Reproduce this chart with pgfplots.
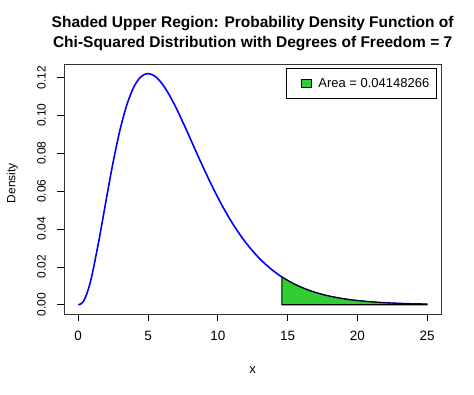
\documentclass[border=0pt]{standalone}
\usepackage{pgfplots}
\pgfplotsset{compat=1.18}
\usepackage{fontspec}
\setmainfont{Liberation Sans}
\definecolor{shade}{RGB}{50,205,50}
\begin{document}
\begin{tikzpicture}[x=1pt,y=1pt]
\path[use as bounding box] (-64.3,-81) rectangle (409.7,314);
\begin{axis}[
  at={(0,0)}, anchor=south west,
  scale only axis, width=376.7pt, height=249.7pt,
  xmin=-1, xmax=26, ymin=-0.00488, ymax=0.12692,
  xtick={0,5,10,15,20,25},
  ytick={0,0.02,0.04,0.06,0.08,0.10,0.12},
  xtick pos=bottom, ytick pos=left,
  tick align=outside, major tick length=7pt,
  tick style={black, line width=0.6pt},
  axis line style={line width=0.6pt, black!80},
  /pgf/number format/assume math mode=true,
  yticklabel={\pgfmathprintnumber[fixed,fixed zerofill,precision=2]{\tick}},
  scaled y ticks=false,
  yticklabel shift=8pt,
  yticklabel style={rotate=90, anchor=south, font=\fontsize{12}{14}\selectfont},
  xticklabel shift=7pt,
  xticklabel style={font=\fontsize{13.5}{15}\selectfont},
  legend style={at={(0.9886,0.9864)}, anchor=north east, draw=black, line width=0.8pt,
    font=\fontsize{13}{15}\selectfont, inner xsep=5pt, inner ysep=8pt,
    cells={anchor=west}},
  legend image code/.code={\draw[fill=shade, draw=black, line width=0.6pt] (10pt,-4pt) rectangle (20pt,4pt); \path[draw=none,fill=none] (0pt,0pt) -- (25pt,0pt);},
  clip=false,
]
\addplot[blue, line width=1.6pt, smooth, forget plot] coordinates {
(0,0) (0.25,0.000733) (0.5,0.003662) (0.75,0.008905) (1,0.016131) (1.5,0.034621) (2,0.055348)
(2.5,0.075301) (3,0.092511) (3.5,0.105919) (4,0.115182) (4.5,0.120418) (5,0.122043)
(5.5,0.120620) (6,0.116766) (6.5,0.111083) (7,0.104120) (7.5,0.096356) (8,0.088182)
(8.5,0.079912) (9,0.071796) (9.5,0.064008) (10,0.056669) (10.5,0.049859) (11,0.043620)
(11.5,0.037965) (12,0.032887) (12.5,0.028364) (13,0.024364) (13.5,0.020853) (14,0.017786)
(14.5,0.015122) (15,0.012819) (15.5,0.010836) (16,0.009136) (16.5,0.007684) (17,0.006448)
(17.5,0.005399) (18,0.004512) (18.5,0.003763) (19,0.003133) (19.5,0.002603) (20,0.002160)
(21,0.001480) (22,0.001008) (23,0.000684) (24,0.000461) (25,0.000310)
};
\addplot[fill=shade, draw=black, line width=1.1pt] coordinates {
(14.6,0) (14.6,0.014634) (15,0.012819) (15.5,0.010836) (16,0.009136) (16.5,0.007684) (17,0.006448)
(17.5,0.005399) (18,0.004512) (18.5,0.003763) (19,0.003133) (19.5,0.002603) (20,0.002160)
(21,0.001480) (22,0.001008) (23,0.000684) (24,0.000461) (25,0.000310) (25,0)
} -- cycle;
\addlegendentry{Area = 0.04148266}
\node[anchor=base, font=\fontsize{15.5}{18}\bfseries] at ([yshift=36.3pt]rel axis cs:0.5,1) {Shaded Upper Region: Probability Density Function of};
\node[anchor=base, font=\fontsize{15.5}{18}\bfseries] at ([yshift=16.3pt]rel axis cs:0.5,1) {Chi-Squared Distribution with Degrees of Freedom = 7};
\node[anchor=base, font=\fontsize{13}{15}\selectfont] at ([yshift=-59.5pt]rel axis cs:0.5,0) {x};
\node[anchor=base, rotate=90, font=\fontsize{12}{14}\selectfont] at ([xshift=-49pt,yshift=6pt]rel axis cs:0,0.5) {Density};
\end{axis}
\end{tikzpicture}
\end{document}
